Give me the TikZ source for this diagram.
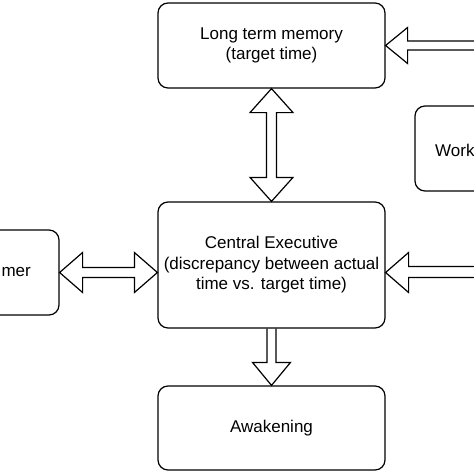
\documentclass[tikz,border=0pt]{standalone}
\usepackage{fontspec}
\setmainfont{Liberation Sans}
\usetikzlibrary{calc}
\begin{document}
\begin{tikzpicture}[x=1pt,y=-1pt,
  txt/.style={font=\fontsize{17}{20.5}\selectfont, align=center},
  box/.style={draw, rounded corners=10pt, line width=1.2pt, minimum width=227pt, inner sep=0pt, txt},
  blockarrow/.style={draw, line width=1.2pt, line join=miter}]
\useasboundingbox (0,0) rectangle (474,474);
\fill[white] (0,0) rectangle (474,474);
\clip (0,0) rectangle (474,474);
% boxes
\node[box, minimum height=85pt] (ltm) at (271.5,45.5) {Long term memory\\(target time)};
\node[box, minimum height=126pt] (ce) at (271.5,265) {Central Executive\\(discrepancy between actual\\time vs. target time)};
\node[box, minimum height=84pt] (awk) at (271.5,428) {Awakening};
\node[box, minimum height=85pt] (timer) at (-54.5,272.5) {};
\node[txt, anchor=east, inner sep=0pt] (timertext) at (31,272) {mer};
\node[box, minimum height=85pt] (wm) at (528.5,148.5) {};
\node[txt, anchor=west, inner sep=0pt] (wmtext) at (435,150) {Work};
\coordinate (cel) at (ce.west |- timer.east);
\coordinate (cer) at (ce.east |- timer.east);
% arrow into long term memory from the right
\draw[blockarrow] (ltm.east) -- ++(22,-18) -- ++(0,13.5) -- ++(80,0) -- ++(0,9) -- ++(-80,0) -- ++(0,13.5) -- cycle;
% double arrow long term memory <-> central executive
\draw[blockarrow] (ltm.south) -- ++(21.5,24) -- ++(-16.5,0) -- ($(ce.north)+(5,-24)$) -- ++(16.5,0) -- (ce.north) -- ++(-21.5,-24) -- ++(16.5,0) -- ($(ltm.south)+(-5,24)$) -- ++(-16.5,0) -- cycle;
% double arrow timer <-> central executive
\draw[blockarrow] (timer.east) -- ++(23,-20) -- ++(0,15) -- ($(cel)+(-23,-5)$) -- ++(0,-15) -- (cel) -- ++(-23,20) -- ++(0,-15) -- ($(timer.east)+(23,5)$) -- ++(0,15) -- cycle;
% arrow into central executive from the right
\draw[blockarrow] (cer) -- ++(23,-20) -- ++(0,14) -- ++(80,0) -- ++(0,11) -- ++(-80,0) -- ++(0,15) -- cycle;
% arrow central executive -> awakening
\draw[blockarrow] ($(ce.south)+(-4.5,0)$) -- ($(awk.north)+(-4.5,-23)$) -- ++(-14.5,0) -- (awk.north) -- ++(19,-23) -- ++(-14.5,0) -- ($(ce.south)+(4.5,0)$);
\end{tikzpicture}
\end{document}
